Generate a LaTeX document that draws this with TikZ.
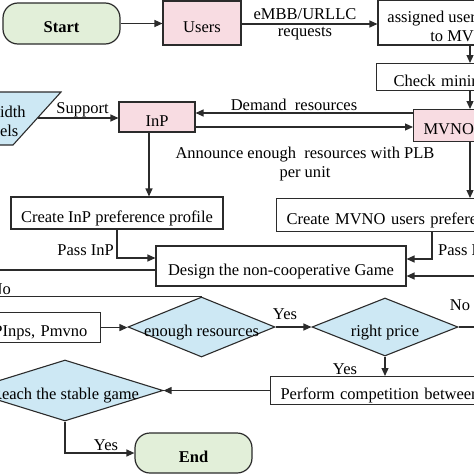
\documentclass[tikz,border=0pt]{standalone}
\usepackage{fontspec}
\setmainfont{Liberation Serif}
\usetikzlibrary{arrows.meta,shapes.geometric,calc}
\definecolor{tgreen}{HTML}{E2EFD9}
\definecolor{tpink}{HTML}{F8DCE2}
\definecolor{tblue}{HTML}{CDE8F4}
\definecolor{tline}{HTML}{2B2B2B}
\begin{document}
\begin{tikzpicture}[x=1pt,y=-1pt,
  every node/.style={font=\fontsize{16.5}{19}\selectfont},
  conn/.style={draw=tline, line width=1.2pt},
  arr/.style={conn, -{Triangle[length=8pt,width=7pt]}},
  low/.style={text height=18pt, text depth=0pt},
  box/.style={draw=tline, line width=1.1pt, fill=white, inner sep=0pt, low},
  pinkbox/.style={box, fill=tpink},
  termbox/.style={draw=tline, line width=1.2pt, fill=tgreen, rounded corners=15pt, inner sep=0pt, low, font=\fontsize{16.5}{19}\selectfont\bfseries},
  dia/.style={draw=tline, line width=1.1pt, fill=tblue, diamond, inner sep=0pt},
  lbl/.style={inner sep=0pt, align=center},
  dlbl/.style={inner sep=0pt, low}
]
\useasboundingbox (0,0) rectangle (474,474);
\clip (0,0) rectangle (474,474);

% nodes
\node[termbox, minimum width=117pt, minimum height=41pt] (start) at (61.5,23.5) {Start};
\node[pinkbox, minimum width=78pt, minimum height=44pt] (users) at (202,23) {Users};
\node[draw=tline, line width=1.1pt, fill=white, inner sep=0pt, minimum width=172pt, minimum height=44.5pt,
      label={[lbl, yshift=-3.5pt]center:{assigned users requests\\to MVNO}}] (assigned) at (464,22.75) {};
\node[box, anchor=north west, minimum height=27pt, text width=300pt, inner xsep=17pt, align=left] (check) at (376,63) {Check minimum requirements};
\node[pinkbox, anchor=north west, minimum height=32pt, text width=60pt, inner xsep=10pt, align=left] (mvno) at (413,109) {MVNO};
\node[pinkbox, minimum width=76pt, minimum height=30pt] (inp) at (157,117) {InP};

\path[draw=tline, line width=1.1pt, fill=tblue] (-80,92) -- (61,92) -- (13,145) -- (-128,145) -- cycle;
\node[lbl] (bw) at (-10.5,121) {Bandwidth\\channels};
\coordinate (bwedge) at (37.5,118);

\node[box, minimum width=212pt, minimum height=32pt] (cinp) at (117,213) {Create InP preference profile};
\node[box, anchor=north west, minimum height=33pt, text width=300pt, inner xsep=10pt, align=left] (cmvno) at (276,198) {Create MVNO users preference profile};
\node[box, minimum width=250pt, minimum height=40pt] (design) at (281,266) {Design the non-cooperative Game};
\node[box, anchor=north east, minimum height=30pt, text width=150pt, inner xsep=13pt, align=right] (pset) at (101,312) {Set PInps, Pmvno};

\node[dia, minimum width=147pt, minimum height=60pt, label={[dlbl]center:enough resources}] (enough) at (201.5,327) {};
\node[dia, minimum width=146pt, minimum height=58pt, label={[dlbl]center:right price}] (rp) at (385,327) {};
\node[box, anchor=north west, minimum height=28pt, text width=350pt, inner xsep=10pt, align=left] (perf) at (270,376) {Perform competition between InPs and MVNOs};
\node[dia, minimum width=196pt, minimum height=61pt, label={[dlbl]center:Reach the stable game}] (reach) at (65,390.5) {};
\node[termbox, minimum width=117pt, minimum height=40pt] (end) at (193.5,453) {End};

% coordinates
\coordinate (colx) at (470,0);
\coordinate (demy) at (0,113);
\coordinate (anny) at (0,127);
\coordinate (inpx) at (149,0);
\coordinate (pmx) at (432,0);
\coordinate (lo1) at (-20,270);
\coordinate (ri1) at (490,276);
\coordinate (lo2) at (-20,297);
\coordinate (ro) at (490,327);
\coordinate (reqy) at (0,24);

% connectors
\draw[arr] (start.east) -- (start.east -| users.west);
\draw[arr] (users.east |- reqy) -- (assigned.west |- reqy);
\draw[arr] (assigned.south -| colx) -- (check.north -| colx);
\draw[arr] (check.south -| colx) -- (mvno.north -| colx);
\draw[arr] (mvno.south -| colx) -- (cmvno.north -| colx);
\draw[arr] (mvno.west |- demy) -- (inp.east |- demy);
\draw[arr] (inp.east |- anny) -- (mvno.west |- anny);
\draw[arr] (bwedge) -- (inp.west |- bwedge);
\draw[arr] (inp.south -| inpx) -- (cinp.north -| inpx);
\draw[arr] (cinp.south) |- ($(design.west)+(0,-8)$);
\draw[arr] (cmvno.south -| pmx) |- ($(design.east)+(0,-7)$);
\draw[conn] (design.west |- lo1) -- (lo1);
\draw[arr] (ri1) -- (design.east |- ri1);
\draw[conn] (enough.north) -- (enough.north -| lo2);
\draw[arr] (pset.east) -- (pset.east -| enough.west);
\draw[arr] (enough.east) -- (rp.west);
\draw[conn] (rp.east) -- (ro);
\draw[arr] (rp.south) -- (rp.south |- perf.north);
\draw[arr] (perf.west) -- (perf.west -| reach.east);
\draw[arr] (reach.south) |- (end.west);

% labels
\node[lbl, font=\fontsize{16.5}{17}\selectfont] (lreq) at (305,24.5) {eMBB/URLLC\\requests};
\node[lbl] (lsup) at (82.5,110) {Support};
\node[lbl] (ldem) at (294,104.5) {Demand\ \ resources};
\node[lbl] (lann) at (305,164) {Announce enough\ \ resources with PLB\\per unit};
\node[lbl, anchor=east] (lpinp) at (114,250) {Pass InP};
\node[lbl, anchor=west] (lpmv) at (438,250) {Pass MVNO};
\node[lbl, anchor=east] (lno1) at (11,289.5) {No};
\node[lbl] (lyes1) at (285,314) {Yes};
\node[lbl] (lno2) at (460,305) {No};
\node[lbl] (lyes2) at (345,369) {Yes};
\node[lbl] (lyes3) at (106,445) {Yes};
\end{tikzpicture}
\end{document}
